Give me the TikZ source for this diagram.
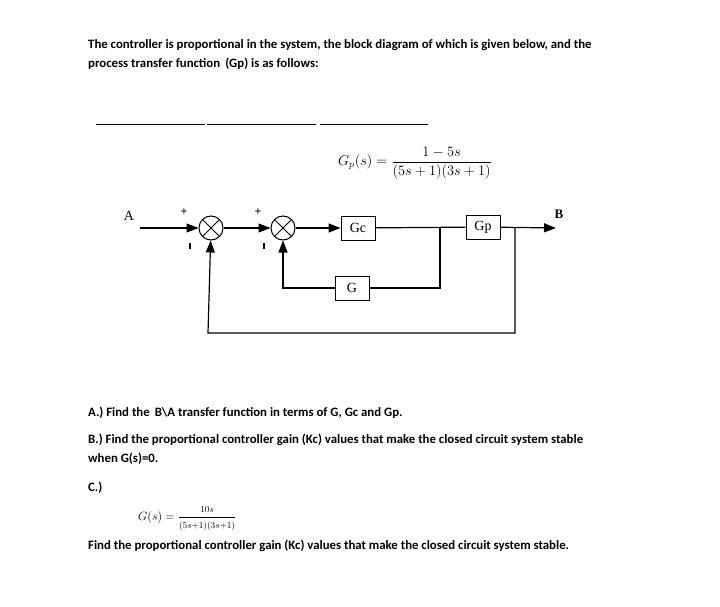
\documentclass[tikz,border=0pt]{standalone}
\usepackage{amsmath}
\usepackage{fontspec}
\setmainfont{Carlito}
\newfontfamily\blkfont{Liberation Serif}
\usetikzlibrary{arrows.meta}
\begin{document}
\begin{tikzpicture}[x=1pt,y=-1pt,
  txt/.style={anchor=west,font=\bfseries\fontsize{12.8}{14}\selectfont,inner sep=0},
  blk/.style={draw,line width=1pt,minimum width=34pt,minimum height=24pt,font=\blkfont\fontsize{14}{14}\selectfont,inner sep=0},
  sum/.style={draw,circle,line width=1pt,minimum size=24pt,inner sep=0,path picture={\draw[line width=1pt] (path picture bounding box.south west)--(path picture bounding box.north east) (path picture bounding box.north west)--(path picture bounding box.south east);}},
  wire/.style={line width=1.2pt},
  arr/.style={wire,-{Triangle[length=12pt,width=9pt]}},
  sg/.style={font=\blkfont\bfseries\fontsize{12}{12}\selectfont}]
\fill[white] (0,0) rectangle (720,607);
\node[txt] (t1) at (88,45) {The controller is proportional in the system, the block diagram of which is given below, and the};
\node[txt] (t2) at (88,64) {process transfer function\, (Gp) is as follows:};
\draw[line width=0.6pt] (96,124)--(205,124) (207,124)--(316,124) (320,124)--(428,124);
\node (gp) at (415,163) {\fontsize{14}{14}\selectfont $G_p(s)=\dfrac{1-5s}{(5s+1)(3s+1)}$};
% diagram
\node[sum] (s1) at (211,228) {};
\node[sum] (s2) at (283,228) {};
\node[blk] (gc) at (358,228) {Gc};
\node[blk] (gpb) at (483,227) {Gp};
\node[blk] (g) at (352,288) {G};
\node[font=\blkfont\fontsize{14}{14}\selectfont] (A) at (129,216) {A};
\node[font=\blkfont\bfseries\fontsize{13}{13}\selectfont] (B) at (559,214) {B};
\coordinate (a0) at (140,228);
\coordinate (p1) at (440,228);
\coordinate (p2) at (515,228);
\coordinate (bend) at (556,228);
\draw[arr] (a0)--(s1);
\draw[arr] (s1)--(s2);
\draw[arr] (s2)--(gc);
\draw[wire] (gc)--(gpb);
\draw[arr] (gpb)--(bend);
\draw[wire] (p1)|-(g.east);
\draw[arr] (g.west)-|(s2);
\draw[arr] (p2)|-(208,333)--(s1);
\node[sg] (p1s) at (184,212) {+};
\node[sg] (p2s) at (258,212) {+};
\node[inner sep=0] (m1) at (190,246) {\rule{1.4pt}{6pt}};
\node[inner sep=0] (m2) at (264,246) {\rule{1.4pt}{6pt}};
% questions
\node[txt] (q1) at (88,413) {A.) Find the\, B\textbackslash A transfer function in terms of G, Gc and Gp.};
\node[txt] (q2) at (88,440) {B.) Find the proportional controller gain (Kc) values that make the closed circuit system stable};
\node[txt] (q3) at (88,459) {when G(s)=0.};
\node[txt] (q4) at (88,488) {C.)};
\node[anchor=west,inner sep=0] (gs) at (138,519) {\fontsize{13}{13}\selectfont$G(s)=\dfrac{\scriptstyle 10s}{\scriptstyle (5s+1)(3s+1)}$};
\node[txt] (q5) at (88,546) {Find the proportional controller gain (Kc) values that make the closed circuit system stable.};
\end{tikzpicture}
\end{document}
